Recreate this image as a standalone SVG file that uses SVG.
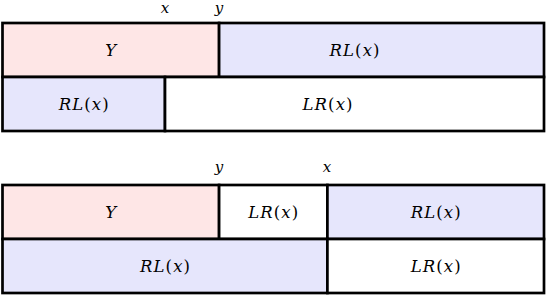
<svg xmlns="http://www.w3.org/2000/svg" width="547" height="298" viewBox="0 0 547 298">
<style>
.cell{stroke:#000;stroke-width:2.7}
.pink{fill:#fee6e6}
.blue{fill:#e6e6fc}
.white{fill:#fff}
text{font-family:"DejaVu Serif","Liberation Serif",serif;font-size:16.5px;font-style:italic;text-anchor:middle;fill:#000}
.lbl{font-size:15px}
.up{font-style:normal}
</style>
<rect width="547" height="298" fill="#fff"/>
<g id="top">
  <g id="t-label-x"><text class="lbl" x="165" y="13">x</text></g>
  <g id="t-label-y"><text class="lbl" x="219" y="13">y</text></g>
  <g id="t-Y"><rect class="cell pink" x="2.5" y="23" width="216.6" height="54"/><text x="110.8" y="55.5">Y</text></g>
  <g id="t-RL1"><rect class="cell blue" x="219.1" y="23" width="324.9" height="54"/><text x="354.5" y="55.5" textLength="50" lengthAdjust="spacing">RL<tspan class="up">(</tspan>x<tspan class="up">)</tspan></text></g>
  <g id="t-RL2"><rect class="cell blue" x="2.5" y="77" width="162.5" height="54"/><text x="83.7" y="109.5" textLength="50" lengthAdjust="spacing">RL<tspan class="up">(</tspan>x<tspan class="up">)</tspan></text></g>
  <g id="t-LR"><rect class="cell white" x="165" y="77" width="379" height="54"/><text x="327.5" y="109.5" textLength="50" lengthAdjust="spacing">LR<tspan class="up">(</tspan>x<tspan class="up">)</tspan></text></g>
</g>
<g id="bottom">
  <g id="b-label-y"><text class="lbl" x="219" y="172">y</text></g>
  <g id="b-label-x"><text class="lbl" x="327" y="172">x</text></g>
  <g id="b-Y"><rect class="cell pink" x="2.5" y="185" width="216.6" height="54"/><text x="110.8" y="217.5">Y</text></g>
  <g id="b-LR1"><rect class="cell white" x="219.1" y="185" width="108.3" height="54"/><text x="273.2" y="217.5" textLength="50" lengthAdjust="spacing">LR<tspan class="up">(</tspan>x<tspan class="up">)</tspan></text></g>
  <g id="b-RL1"><rect class="cell blue" x="327.4" y="185" width="216.6" height="54"/><text x="435.7" y="217.5" textLength="50" lengthAdjust="spacing">RL<tspan class="up">(</tspan>x<tspan class="up">)</tspan></text></g>
  <g id="b-RL2"><rect class="cell blue" x="2.5" y="239" width="324.9" height="54"/><text x="165" y="271.5" textLength="50" lengthAdjust="spacing">RL<tspan class="up">(</tspan>x<tspan class="up">)</tspan></text></g>
  <g id="b-LR2"><rect class="cell white" x="327.4" y="239" width="216.6" height="54"/><text x="435.7" y="271.5" textLength="50" lengthAdjust="spacing">LR<tspan class="up">(</tspan>x<tspan class="up">)</tspan></text></g>
</g>
<g id="connectors"/>
</svg>
